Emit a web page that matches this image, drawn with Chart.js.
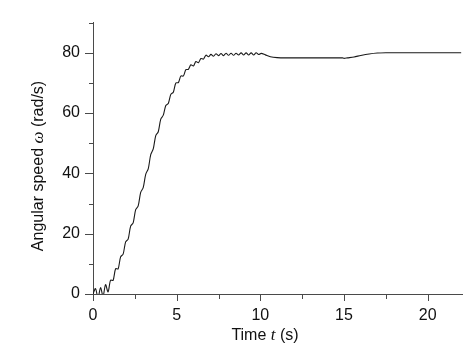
<!DOCTYPE html>
<html>
<head>
<meta charset="utf-8">
<script src="https://cdn.jsdelivr.net/npm/chart.js@4/dist/chart.umd.min.js"></script>
<style>
html,body{margin:0;padding:0;background:#fff;}
#wrap{width:474px;height:363px;position:relative;}
</style>
</head>
<body>
<div id="wrap"><canvas id="c" width="474" height="363"></canvas></div>
<script>
// Time (s)
const times = [
  0.00,0.15,0.30,0.45,0.60,0.75,0.90,1.05,1.20,1.35,1.50,1.65,1.80,1.95,2.10,2.25,2.40,2.55,2.70,2.85,
  3.00,3.15,3.30,3.45,3.60,3.75,3.90,4.05,4.20,4.35,4.50,4.65,4.80,4.95,5.10,5.25,5.40,5.55,5.70,5.85,
  6.00,6.15,6.30,6.45,6.60,6.75,6.90,7.05,7.20,7.35,7.50,7.65,7.80,7.95,8.10,8.25,8.40,8.55,8.70,8.85,
  9.00,9.15,9.30,9.45,9.60,9.75,9.90,10.05,10.3,10.6,11.0,11.5,13.0,14.9,15.0,15.2,15.6,16.0,16.5,17.0,17.5,18.0,22.0
];
// Angular speed ω (rad/s)
const speeds = [
  0.0,1.8,-1.3,2.1,-0.7,3.1,0.7,4.6,4.5,8.4,8.3,12.3,13.2,17.3,18.2,22.5,23.6,28.0,29.2,33.7,
  35.3,39.7,41.5,46.2,48.1,52.5,53.8,58.0,59.3,62.5,63.2,66.2,66.9,70.0,70.1,72.3,72.3,74.4,74.5,76.0,
  75.6,77.1,76.7,78.1,77.9,79.2,78.7,79.45,78.85,79.65,79.05,79.75,79.05,79.85,79.15,79.85,79.15,79.85,79.25,79.95,
  79.25,79.95,79.25,79.95,79.25,80.0,79.4,79.8,79.3,78.7,78.4,78.3,78.3,78.3,78.15,78.3,78.6,79.1,79.6,79.9,80.0,80.0,80.0
];
const xTickLabels = [0, 5, 10, 15, 20];
const yTickLabels = [0, 20, 40, 60, 80];
const xAxisTitle = ['Time ', 't', ' (s)'];
const yAxisTitle = ['Angular speed ', 'ω', ' (rad/s)'];

const points = times.map((t, i) => ({x: t, y: speeds[i]}));
const AXIS = '#4a4a4a';
const FONT = 'Liberation Sans, Arial, sans-serif';

const tickMarks = {
  id: 'tickMarks',
  afterDraw(chart) {
    const ctx = chart.ctx;
    const xs = chart.scales.x, ys = chart.scales.y;
    ctx.save();
    ctx.strokeStyle = AXIS;
    ctx.lineWidth = 1;
    ctx.beginPath();
    xs.ticks.forEach(t => {
      const px = Math.round(xs.getPixelForValue(t.value)) + 0.5;
      const len = xTickLabels.includes(t.value) ? 7 : 5;
      ctx.moveTo(px, xs.top);
      ctx.lineTo(px, xs.top + len);
    });
    ys.ticks.forEach(t => {
      const py = Math.round(ys.getPixelForValue(t.value)) + 0.5;
      const len = yTickLabels.includes(t.value) ? 8 : 4;
      ctx.moveTo(ys.right, py);
      ctx.lineTo(ys.right - len, py);
    });
    ctx.stroke();

    // axis titles with mixed fonts
    const drawParts = (parts, cx, cy, rot) => {
      ctx.save();
      ctx.translate(cx, cy);
      ctx.rotate(rot);
      ctx.fillStyle = '#111';
      ctx.textBaseline = 'middle';
      const fonts = ['16px ' + FONT, 'italic 17px "Liberation Serif", "DejaVu Serif", serif', '16px ' + FONT];
      let total = 0;
      parts.forEach((p, i) => { ctx.font = fonts[i]; total += ctx.measureText(p).width; });
      let x = -total / 2;
      ctx.textAlign = 'left';
      parts.forEach((p, i) => { ctx.font = fonts[i]; ctx.fillText(p, x, 0); x += ctx.measureText(p).width; });
      ctx.restore();
    };
    drawParts(xAxisTitle, 265, 336, 0);
    drawParts(yAxisTitle, 39, 166, -Math.PI / 2);
    ctx.restore();
  }
};

new Chart(document.getElementById('c'), {
  type: 'line',
  data: {
    datasets: [{
      data: points,
      borderColor: '#1a1a1a',
      borderWidth: 1.1,
      pointRadius: 0,
      tension: 0.3,
      fill: false
    }]
  },
  options: {
    responsive: false,
    animation: false,
    devicePixelRatio: 1,
    layout: {padding: {top: 12, right: 12, left: 0, bottom: 0}},
    plugins: {legend: {display: false}, tooltip: {enabled: false}},
    scales: {
      x: {
        type: 'linear',
        min: 0,
        max: 22.05,
        afterFit(s) { s.height = 69; },
        grid: {display: false, drawTicks: false},
        border: {display: true, color: AXIS, width: 1},
        ticks: {
          stepSize: 2.5,
          includeBounds: false,
          padding: 12,
          maxRotation: 0,
          autoSkip: false,
          color: '#111',
          font: {family: FONT, size: 16},
          callback: v => xTickLabels.includes(v) ? String(v) : ''
        }
      },
      y: {
        type: 'linear',
        min: 0,
        max: 90,
        afterFit(s) { s.width = 93; },
        grid: {display: false, drawTicks: false},
        border: {display: true, color: AXIS, width: 1},
        ticks: {
          stepSize: 10,
          includeBounds: false,
          padding: 13,
          autoSkip: false,
          color: '#111',
          font: {family: FONT, size: 16},
          callback: v => yTickLabels.includes(v) ? String(v) : ''
        }
      }
    }
  },
  plugins: [tickMarks]
});
</script>
</body>
</html>
